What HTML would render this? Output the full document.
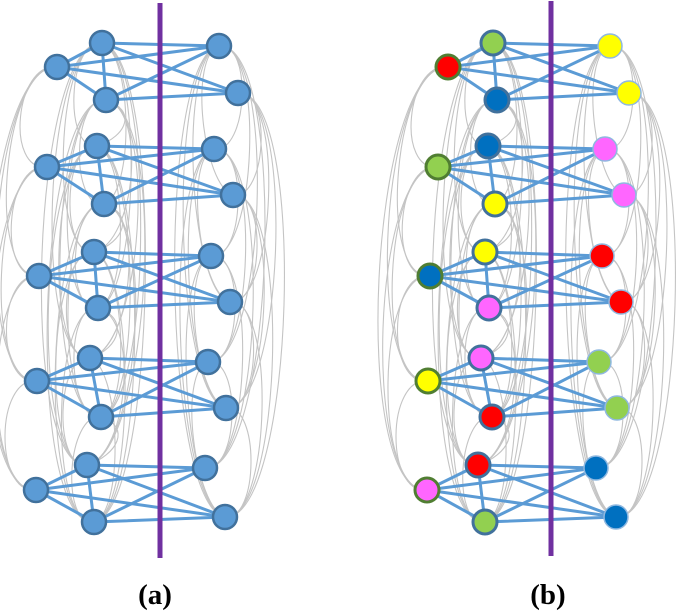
<!DOCTYPE html>
<html><head><meta charset="utf-8"><style>
html,body{margin:0;padding:0;background:#fff;width:685px;height:613px;overflow:hidden}
svg{display:block}
text{font-family:"Liberation Serif",serif;font-weight:bold;font-size:29px}
</style></head><body>
<svg id="s" width="685" height="613" viewBox="0 0 685 613" xmlns="http://www.w3.org/2000/svg">
<g id="arcs" fill="none" stroke="#c4c4c4" stroke-width="1.1"></g>
<g id="edges" stroke="#5b9bd5" stroke-width="3" stroke-linecap="round"></g>
<rect x="157.5" y="3" width="5" height="555" fill="#7030a0"/>
<rect x="548.5" y="1" width="5" height="555" fill="#7030a0"/>
<g id="nodes"></g>
<text x="155" y="604" text-anchor="middle">(a)</text>
<text x="548" y="604" text-anchor="middle">(b)</text>
</svg>
<script>
var G=[[[57,67],[102,43],[106,100],[219,46],[238,93]],
[[47,167],[97,146],[104,204],[214,149],[233,195]],
[[39,276],[94,252],[98,308],[211,256],[230,302]],
[[37,381],[90,358],[101,417],[208,362],[226,408]],
[[36,490],[87,465],[94,522],[205,468],[225,517]]];
var E=[[0,1],[0,2],[1,2],[1,3],[1,4],[0,3],[0,4],[2,3],[2,4]];
var R='#ff0000',Gr='#92d050',B='#0070c0',Y='#ffff00',M='#ff66ff';
var C=[[R,Gr,B,Y,Y],[Gr,B,Y,M,M],[B,Y,M,R,R],[Y,M,R,Gr,Gr],[M,R,Gr,B,B]];
var ns='http://www.w3.org/2000/svg';
function el(p,t,a){var e=document.createElementNS(ns,t);for(var k in a)e.setAttribute(k,a[k]);document.getElementById(p).appendChild(e);}
[0,391].forEach(function(off,pi){
 for(var g=0;g<5;g++)for(var h=g+1;h<5;h++)for(var n=0;n<5;n++){
  var a=G[g][n],b=G[h][n];
  var left=n<3;var bulge=(left?-1:1)*(22+12*(h-g)+(n==0?8:0));
  var x1=a[0]+off,x2=b[0]+off;
  el('arcs','path',{d:'M'+x1+' '+a[1]+' C'+(x1+bulge)+' '+(a[1]-5)+' '+(x2+bulge)+' '+(b[1]+5)+' '+x2+' '+b[1]});
  if(n==1||n==3||n==2){var m=n==2?1:n+1;var c=G[h][m];var x3=c[0]+off;
   var bb=bulge*0.9;
   el('arcs','path',{d:'M'+x1+' '+a[1]+' C'+(x1-bb)+' '+(a[1]+10)+' '+(x3-bb)+' '+(c[1]-10)+' '+x3+' '+c[1]});}
 }
 for(var g=0;g<5;g++){
  E.forEach(function(e){var a=G[g][e[0]],b=G[g][e[1]];
   el('edges','line',{x1:a[0]+off,y1:a[1],x2:b[0]+off,y2:b[1]});});
  for(var n=0;n<5;n++){var p=G[g][n];
   var fill=pi==0?'#5b9bd5':C[g][n];
   var st=pi==0?'#41719c':(n==0?'#507e32':(n<3?'#41719c':'#8fb8e0'));
   el('nodes','circle',{cx:p[0]+off,cy:p[1],r:12,fill:fill,stroke:st,'stroke-width':pi==0?2.5:(n<3?3:1.5)});}
 }
});
</script>
</body></html>
